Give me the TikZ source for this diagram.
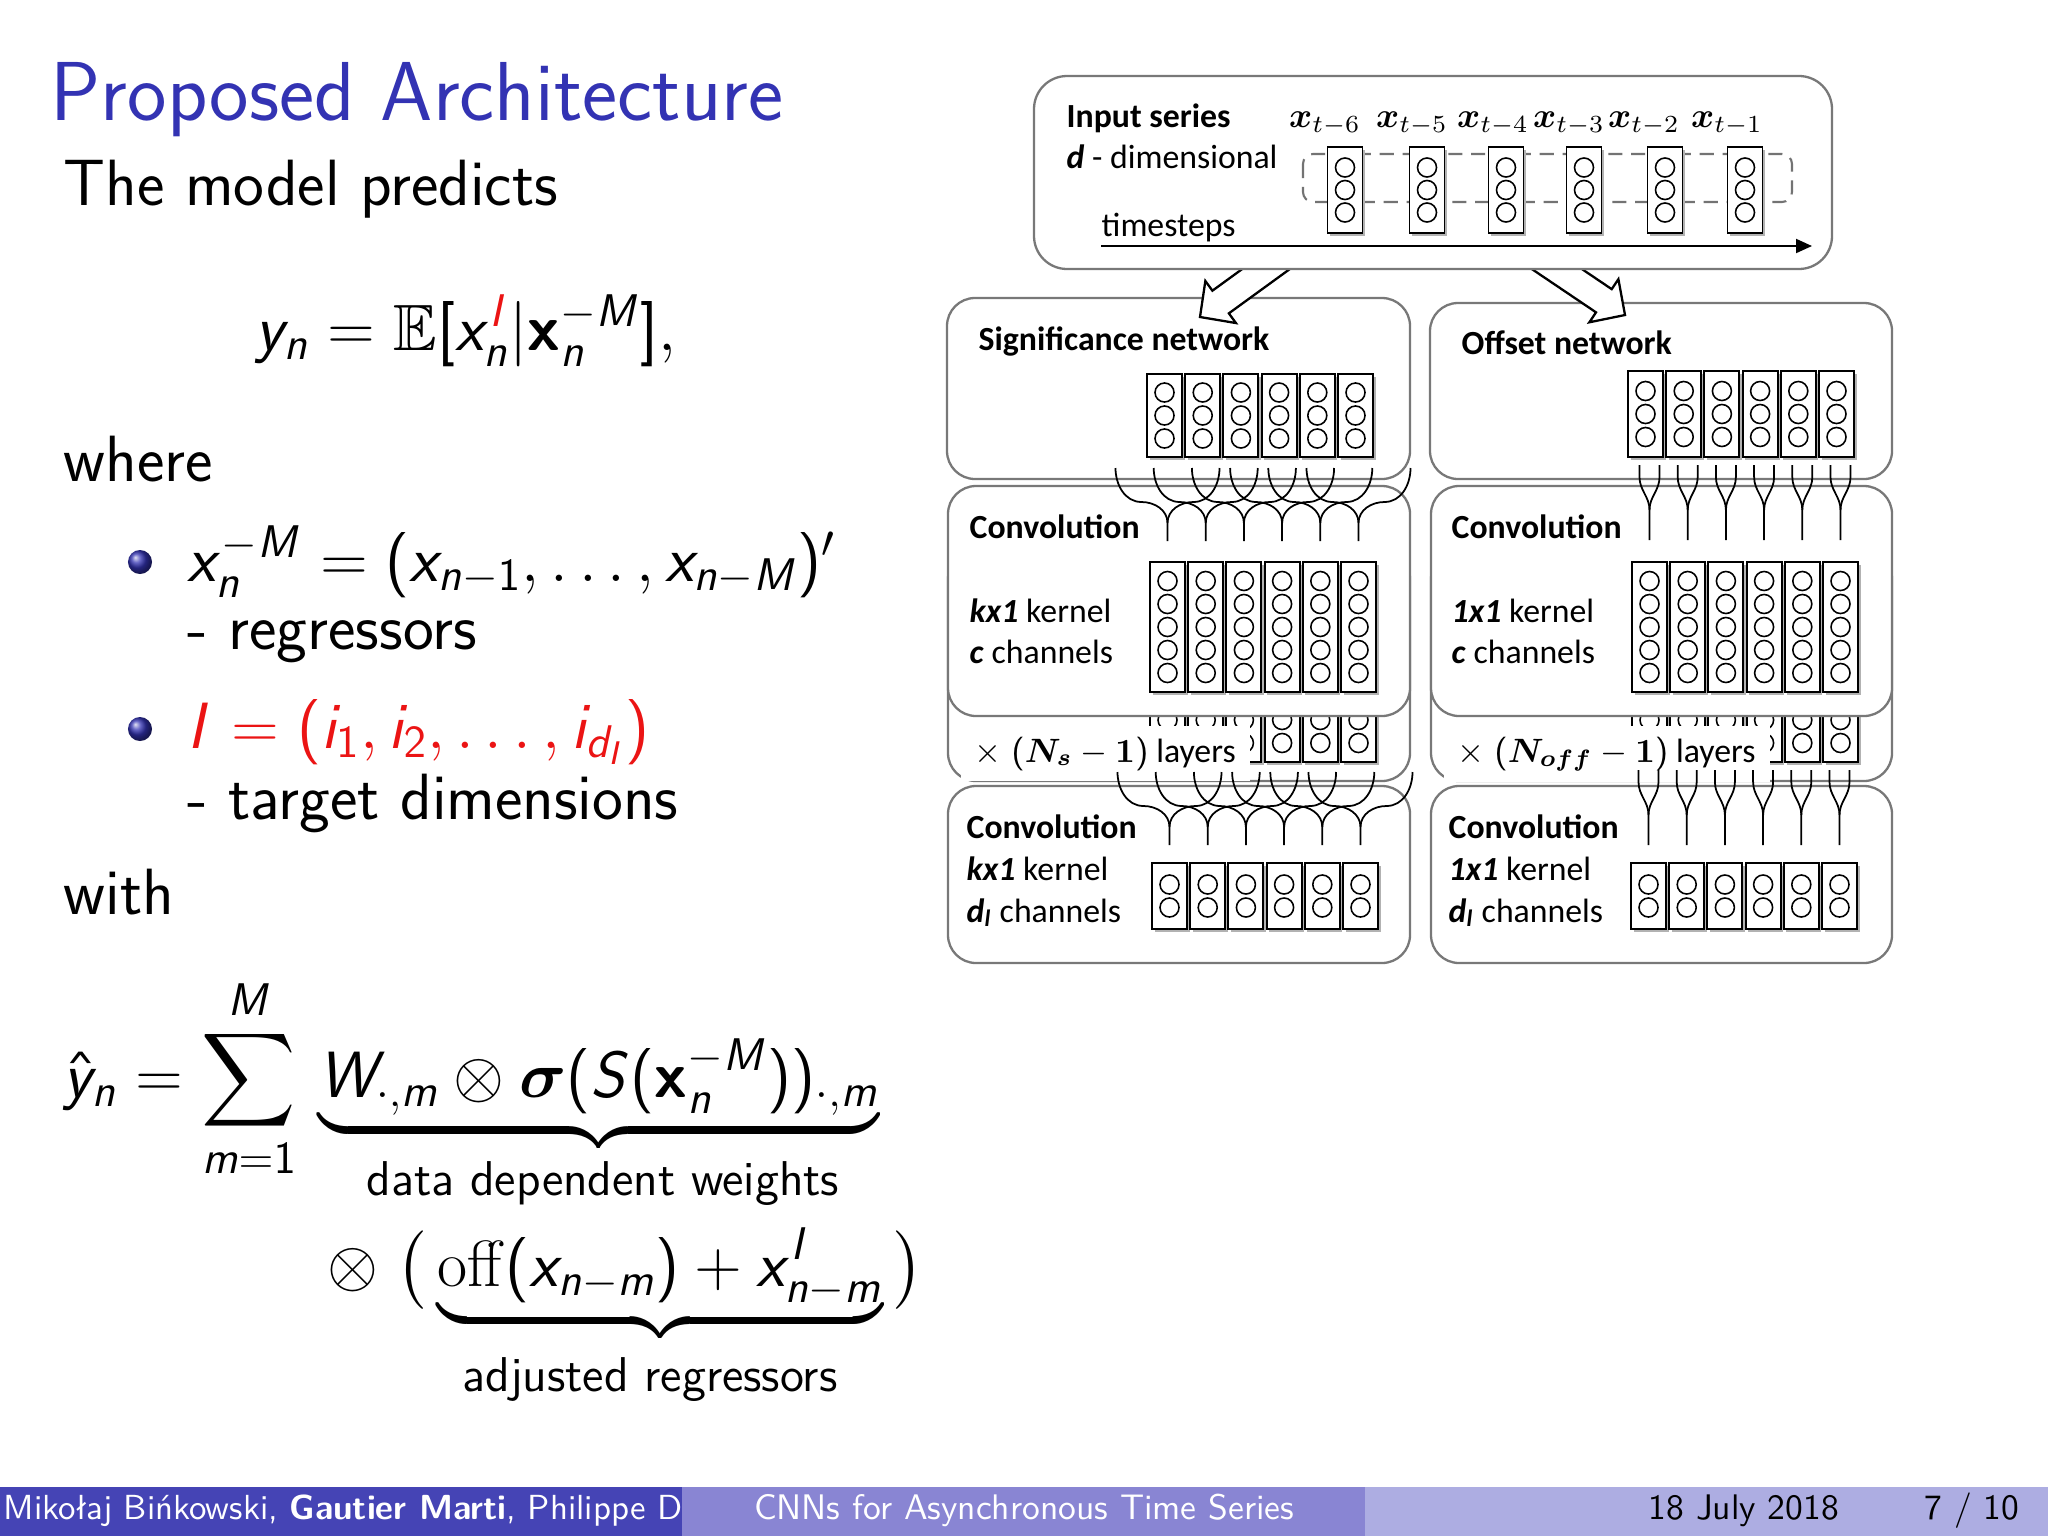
\documentclass[tikz,border=0pt]{standalone}
\usepackage{fix-cm}
\usepackage{amsmath,amssymb}
\usepackage[no-math]{fontspec}
\newfontfamily\diagfont{Carlito}
\usetikzlibrary{arrows.meta,positioning,calc}
\renewcommand\familydefault{\sfdefault}
% slide maths: sans letters and digits
\DeclareSymbolFont{operators}{OT1}{cmss}{m}{n}
\SetSymbolFont{operators}{bold}{OT1}{cmss}{bx}{n}
\DeclareSymbolFont{sfslant}{OT1}{cmss}{m}{sl}
\DeclareMathAlphabet{\mathbf}{OT1}{cmss}{bx}{n}
\DeclareMathAlphabet{\mathsr}{OT1}{cmr}{m}{n}
\DeclareMathAlphabet{\mathsb}{OT1}{cmr}{bx}{n}
\DeclareMathAlphabet{\mathbit}{OML}{cmm}{b}{it}
\makeatletter
\count@=`a
\loop\mathcode\count@=\numexpr"7000+\symsfslant*"100+\count@\relax
  \advance\count@\@ne\ifnum\count@<`\{\repeat
\count@=`A
\loop\mathcode\count@=\numexpr"7000+\symsfslant*"100+\count@\relax
  \advance\count@\@ne\ifnum\count@<`\[\repeat
\makeatother
\definecolor{structblue}{RGB}{51,51,179}
\definecolor{panelgray}{RGB}{120,120,120}
\definecolor{footA}{RGB}{69,68,181}
\definecolor{footB}{RGB}{137,133,211}
\definecolor{footC}{RGB}{173,173,226}
\definecolor{slidered}{RGB}{235,20,20}

\tikzset{
  panel/.style={draw=panelgray, line width=0.65pt, fill=white, rounded corners=0.28cm},
  colbox/.style={draw=black, line width=0.55pt, fill=white},
  colshadow/.style={fill=black!30, draw=none},
  cell/.style={draw=black, line width=0.45pt},
  fanline/.style={draw=black, line width=0.5pt},
  hollowline/.style={draw=black, fill=white, line width=0.65pt, line join=miter},
  bodytext/.style={anchor=base west, inner sep=0pt, font=\fontsize{18.6}{22}\selectfont},
  mathtext/.style={bodytext},
  bracetext/.style={anchor=base, inner sep=0pt, font=\fontsize{13.9}{17}\selectfont},
  diagtext/.style={anchor=base west, inner sep=0pt, font=\diagfont\fontsize{9.6}{11.5}\selectfont},
  diaghead/.style={diagtext, font=\diagfont\bfseries\fontsize{9.6}{11.5}\selectfont},
  xlabel/.style={anchor=base, inner sep=0pt, font=\fontsize{10}{12}\selectfont},
  layerlabel/.style={diagtext, fill=white, inner xsep=4pt, inner ysep=3pt},
  foottext/.style={anchor=base west, inner sep=0pt, font=\fontsize{10.1}{12}\selectfont}
}

% six columns of cells: left x, top y, cells, height
\newcommand\cellcolumns[4]{%
  \foreach \k in {0,...,5}{
    \fill[colshadow] ({#1+\k*38.2+2.5},{#2+2.5}) rectangle ++(35,#4);
    \draw[colbox] ({#1+\k*38.2},#2) rectangle ++(35,#4);
    \foreach \j in {1,...,#3}
      \draw[cell] ({#1+\k*38.2+17.5},{#2+#4/2+(\j-(#3+1)/2)*23}) circle (0.095cm);
  }}
% kx1 fan: centre x, top y
\newcommand\widefan[2]{%
  \draw[fanline] ({#1-52},#2) to[out=-90,in=180] ({#1-26},{#2+34}) to[out=0,in=90] (#1,{#2+55}) -- (#1,{#2+73});
  \draw[fanline] ({#1+52},#2) to[out=-90,in=0] ({#1+26},{#2+34}) to[out=180,in=90] (#1,{#2+55});}
% 1x1 fan: centre x, top y
\newcommand\narrowfan[2]{%
  \draw[fanline] ({#1-10},#2) -- ({#1-10},{#2+12}) to[out=-90,in=90] (#1,{#2+45}) -- (#1,{#2+75});
  \draw[fanline] ({#1+10},#2) -- ({#1+10},{#2+12}) to[out=-90,in=90] (#1,{#2+45});}
% hollow block arrow: tip, direction, length
\newcommand\hollowarrow[3]{%
  \begin{scope}[shift={(#1)}, rotate=#2]
    \draw[hollowline] (0,0) -- (-25.5,26) -- (-25.5,14) -- (-#3,14) -- (-#3,-14)
      -- (-25.5,-14) -- (-25.5,-26) -- cycle;
  \end{scope}}

\begin{document}
\begin{tikzpicture}[x=0.01cm, y=-0.01cm]
\useasboundingbox (0,0) rectangle (2048,1536);
\fill[white] (0,0) rectangle (2048,1536);

% left column of the slide
\node[bodytext, text=structblue, font=\fontsize{23.8}{28}\selectfont] (title) at (50,120) {Proposed Architecture};
\node[bodytext] (predicts) at (63,205) {The model predicts};
\node[mathtext] (eqy) at (255,350) {$y_n = \mathbb{E}[x_n^{\textcolor{slidered}{I}}|\mathbf{x}_n^{-M}],$};
\node[bodytext] (where) at (63,481) {where};
\shade[ball color=structblue] (140,562) circle (0.12cm);
\node[mathtext] (regr) at (187,581) {$x_n^{-M} = (x_{n-1}, \ldots, x_{n-M})'$};
\node[bodytext] (regrnote) at (187,649) {- regressors};
\shade[ball color=structblue] (140,729) circle (0.12cm);
\node[mathtext, text=slidered] (targ) at (187,748) {$I = (i_1, i_2, \ldots, i_{d_I})$};
\node[bodytext] (targnote) at (187,819) {- target dimensions};
\node[bodytext] (with) at (63,914) {with};
\node[mathtext] (eqhat) at (63,1097) {$\displaystyle \hat{y}_n = \sum_{m=1}^{M}\, \underbrace{W_{\cdot,m} \otimes \boldsymbol{\sigma}(S(\mathbf{x}_n^{-M}))_{\cdot,m}}$};
\node[bracetext] (weights) at (603,1195) {data dependent weights};
\node[mathtext] (eqoff) at (327,1286) {$\displaystyle \otimes\;\bigl(\,\underbrace{\mathsr{off}(x_{n-m}) + x_{n-m}^{I}}\,\bigr)$};
\node[bracetext] (adjusted) at (650,1391) {adjusted regressors};

% networks, back to front
\draw[panel] (947,298) rectangle (1410,479);
\draw[panel] (1430,303) rectangle (1892,479);
\coordinate (sigtip) at (1200,317);
\coordinate (offtip) at (1625,315);
\hollowarrow{sigtip}{216}{101}
\hollowarrow{offtip}{326}{102}

% input series
\draw[panel, rounded corners=0.33cm] (1034,76) rectangle (1832,269);
\draw[draw=black!55, line width=0.6pt, dash pattern=on 4pt off 2.5pt, rounded corners=0.1cm] (1303,154) rectangle (1792,202);
\foreach \cx/\lx/\t in {1345/1325/6, 1427/1412/5, 1506/1493/4, 1584/1569/3, 1665/1644/2, 1745/1727/1}{
  \fill[colshadow] ({\cx-17.5+2.5},149.5) rectangle ++(35,86);
  \draw[colbox] ({\cx-17.5},147) rectangle ++(35,86);
  \foreach \j in {-1,0,1}
    \draw[cell] (\cx,{190+\j*22.5}) circle (0.095cm);
  \node[xlabel] (x\t) at (\lx,127) {$\mathbit{x}_{\mathnormal{t}-\mathsr{\t}}$};
}
\node[diaghead] (input) at (1066,127) {Input series};
\node[diagtext] (dim) at (1066,168) {\textbf{\textit{d}} - dimensional};
\node[diagtext] (steps) at (1101,236) {timesteps};
\coordinate (tsstart) at (1101,246);
\coordinate (tsend) at (1812,246);
\draw[line width=0.55pt, -{Triangle[length=0.16cm,width=0.14cm]}] (tsstart) -- (tsend);

% significance and offset networks
\node[diaghead] (signame) at (978,350) {Significance network};
\cellcolumns{1147}{374}{3}{83}
\node[diaghead] (offname) at (1461,354) {Offset network};
\cellcolumns{1628}{371}{3}{86}

% repeated layers behind
\draw[panel] (948,551) rectangle (1410,781);
\cellcolumns{1150}{632}{5}{130}
\draw[panel] (1431,551) rectangle (1892,781);
\cellcolumns{1632}{632}{5}{130}

% first convolution
\draw[panel] (948,486) rectangle (1410,716);
\cellcolumns{1150}{562}{5}{130}
\node[diaghead] (sigconv) at (969,538) {Convolution};
\node[diagtext] (sigkern) at (969,622) {\textbf{\textit{kx1}} kernel};
\node[diagtext] (sigchan) at (969,663) {\textbf{\textit{c}} channels};
\draw[panel] (1431,486) rectangle (1892,716);
\cellcolumns{1632}{562}{5}{130}
\node[diaghead] (offconv) at (1451,538) {Convolution};
\node[diagtext] (offkern) at (1451,622) {\textbf{\textit{1x1}} kernel};
\node[diagtext] (offchan) at (1451,663) {\textbf{\textit{c}} channels};

% last convolution
\draw[panel] (948,786) rectangle (1410,963);
\cellcolumns{1152}{863}{2}{66}
\node[diaghead] (sigconvl) at (966,838) {Convolution};
\node[diagtext] (sigkernl) at (966,880) {\textbf{\textit{kx1}} kernel};
\node[diagtext] (sigchanl) at (966,922) {\textbf{\textit{d}\textsubscript{\textit{l}}} channels};
\draw[panel] (1431,786) rectangle (1892,963);
\cellcolumns{1631}{863}{2}{66}
\node[diaghead] (offconvl) at (1448,838) {Convolution};
\node[diagtext] (offkernl) at (1448,880) {\textbf{\textit{1x1}} kernel};
\node[diagtext] (offchanl) at (1448,922) {\textbf{\textit{d}\textsubscript{\textit{l}}} channels};

% fans between layers
\foreach \k in {0,...,5}{
  \widefan{1167.5+\k*38.2}{468}
  \narrowfan{1649.5+\k*38.2}{465}
}
\node[layerlabel] (siglayers) at (960,762) {$\times\;(\mathbit{N}_{\mathbit{s}}-\mathsb{1})$ layers};
\node[layerlabel] (offlayers) at (1443,762) {$\times\;(\mathbit{N}_{\mathbit{off}}-\mathsb{1})$ layers};
\foreach \k in {0,...,5}{
  \widefan{1169.5+\k*38.2}{772}
  \narrowfan{1648.5+\k*38.2}{770}
}

% footline
\fill[footA] (0,1487) rectangle (682,1536);
\fill[footB] (682,1487) rectangle (1365,1536);
\fill[footC] (1365,1487) rectangle (2048,1536);
\begin{scope}
  \clip (0,1487) rectangle (682,1536);
  \node[foottext, text=white, font=\fontsize{9.9}{12}\selectfont] (authors) at (3,1519) {Mikołaj Bińkowski, \textbf{Gautier Marti}, Philippe D};
\end{scope}
\node[foottext, text=white, anchor=base] (talk) at (1024,1519) {CNNs for Asynchronous Time Series};
\node[foottext] (date) at (1648,1519) {18 July 2018};
\node[foottext] (page) at (1924,1519) {7 / 10};
\end{tikzpicture}
\end{document}
